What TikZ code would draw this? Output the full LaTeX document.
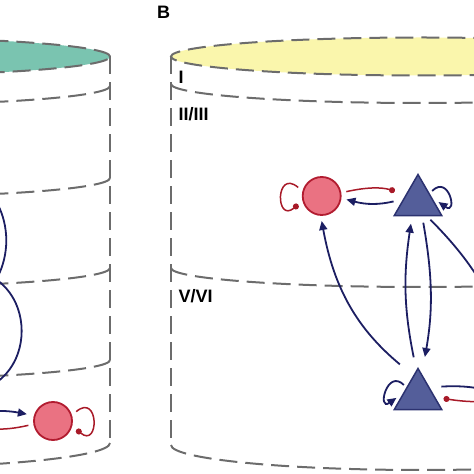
\documentclass[tikz,border=0pt]{standalone}
\usepackage{fontspec}
\setmainfont{Liberation Sans}
\usepackage{xcolor}
\usetikzlibrary{arrows.meta}
\usetikzlibrary{shapes.geometric}
\definecolor{layergray}{RGB}{108,108,108}
\definecolor{topteal}{RGB}{122,196,176}
\definecolor{topyellow}{RGB}{250,246,172}
\definecolor{cellred}{RGB}{234,114,130}
\definecolor{cellredline}{RGB}{178,28,48}
\definecolor{cellblue}{RGB}{84,94,154}
\definecolor{cellblueline}{RGB}{44,50,112}
\definecolor{navy}{RGB}{28,30,98}
\definecolor{inhred}{RGB}{168,26,40}
\begin{document}
\begin{tikzpicture}[x=1pt,y=1pt,
	layer/.style={layergray,line width=2pt,dash pattern=on 18pt off 8pt},
	inter/.style={circle,draw=cellredline,fill=cellred,line width=1.8pt,minimum size=38pt,inner sep=0pt,outer sep=6pt},
	pyr/.style={regular polygon,regular polygon sides=3,draw=cellblueline,fill=cellblue,line width=1.5pt,minimum size=55pt,inner sep=0pt,outer sep=4pt},
	conn/.style={navy,line width=1.8pt},
	exc/.style={conn,-{Triangle[length=9pt,width=8pt]}},
	inh/.style={inhred,line width=1.5pt,-{Circle[length=6pt]}},
	lab/.style={font=\bfseries\fontsize{18}{20}\selectfont,anchor=west,inner sep=0pt}]
		\path[use as bounding box,clip] (0,0) rectangle (474,474);
		% left column
		\fill[topteal] (-140,417.5) ellipse [x radius=250,y radius=19];
		\draw[layer] (-140,417.5) ellipse [x radius=250,y radius=19];
		\draw[layer] (110,417.5)--(110,31);
		\foreach \h in {388,296,206,114}
			\draw[layer] (110,\h) arc [start angle=0,end angle=-180,x radius=250,y radius=19];
		\draw[layer] (110,31) arc [start angle=0,end angle=-180,x radius=250,y radius=25];
		% right column
		\fill[topyellow] (421,417.5) ellipse [x radius=250,y radius=19];
		\draw[layer] (421,417.5) ellipse [x radius=250,y radius=19];
		\draw[layer] (171,417.5)--(171,29);
		\foreach \h in {390,206}
			\draw[layer] (171,\h) arc [start angle=180,end angle=360,x radius=250,y radius=19];
		\draw[layer] (171,29) arc [start angle=180,end angle=360,x radius=250,y radius=25];
		\node[font=\bfseries\fontsize{18}{20}\selectfont,inner sep=0pt] (B) at (163.5,461.5) {B};
		\node[lab] (I) at (178.5,396.5) {I};
		\node[lab] (II) at (178.5,360) {II/III};
		\node[lab] (V) at (178.5,178) {V/VI};
		\node[inter] (1) at (321.7,278) {};
		\node[pyr] (2) at (418,272) {};
		\node[pyr] (3) at (418,78) {};
		\node[inter] (4) at (53,53) {};
		\coordinate (5) at (514,75);
		\coordinate (6) at (-43,55);
		\coordinate (7) at (-40,81);
		\coordinate (8) at (-40,205);
		\coordinate (9) at (-30,167);
		\coordinate (10) at (-30,300);
		\draw[inh] (1.160) to[out=140,in=220,min distance=30pt] (1.200);
		\draw[exc] (2.38) to[out=45,in=-35,min distance=24pt] (2.0);
		\draw[exc] (3.142) to[out=135,in=215,min distance=24pt] (3.185);
		\draw[inh] (4.22) to[out=40,in=-40,min distance=30pt] (4.-20);
		\draw[inh,shorten >=8pt] (1.10) to[bend left=14] (2.150);
		\draw[exc,shorten <=5pt] (2.175) to[bend left=14] (1.-8);
		\draw[exc,shorten <=14pt] (3.108) to[bend left=20] (1.-90);
		\draw[exc,shorten <=8pt,shorten >=4pt] (3.95) to[bend left=10] (2.-110);
		\draw[exc,shorten <=3pt,shorten >=12pt] (2.-75) to[bend left=10] (3.80);
		\draw[exc] (2.-55) to[bend left=20] (5);
		\draw[exc,shorten <=8pt] (3.30) to[bend left=12] (5);
		\draw[inh,shorten >=4pt] (5) to[bend left=8] (3.-5);
		\draw[exc,shorten >=2pt] (6) to[bend left=14] (4.165);
		\draw[inh] (4.190) to[bend left=18] (6);
		\draw[conn] (7) to[out=0,in=0,looseness=1.7] (8);
		\draw[conn] (9) to[out=32,in=-32,looseness=1.1] (10);
\end{tikzpicture}
\end{document}
